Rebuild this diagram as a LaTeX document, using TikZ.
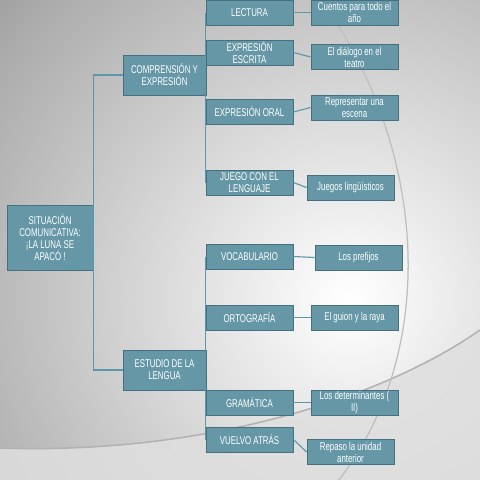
\documentclass[tikz,border=0pt]{standalone}
\usepackage{fontspec}
\setmainfont{Liberation Sans}[FakeStretch=0.70]
\definecolor{boxfill}{RGB}{101,151,166}
\definecolor{boxline}{RGB}{70,112,126}
\definecolor{linkcol}{RGB}{92,152,170}
\pgfdeclareradialshading{bgglow}{\pgfpointorigin}{color(0bp)=(white); color(1.7bp)=(gray!5); color(20.2bp)=(gray!65); color(22.6bp)=(gray!75); color(50bp)=(gray!75)}

\begin{document}
\begin{tikzpicture}[x=0.025cm,y=-0.025cm,
  box/.style={rectangle,draw=boxline,fill=boxfill,line width=0.6pt,text=white,inner sep=0pt,align=center,
    font=\fontsize{8}{8.5}\selectfont,minimum width=2.175cm,minimum height=0.625cm},
  link/.style={draw=linkcol,line width=0.8pt}]
\useasboundingbox (0,0) rectangle (480,480);
\begin{scope}
\clip (0,0) rectangle (480,480);
\fill[gray!75] (0,0) rectangle (480,480);
\shade[shading=bgglow] (350,300) circle (520);
\fill[gray!25,opacity=0.85] (0,448) .. controls (200,455) and (380,400) .. (480,330) -- (480,480) -- (0,480) -- cycle;
\draw[gray!60,line width=1.1pt] (0,448) .. controls (200,455) and (380,400) .. (480,330);
\draw[gray!50,line width=0.9pt] (335,20) .. controls (430,170) and (435,360) .. (335,485);
\end{scope}

\node[box,minimum width=2.15cm,minimum height=1.625cm] (root) at (50,237.5) {SITUACIÓN\\COMUNICATIVA:\\¡LA LUNA SE\\APACÓ !};
\node[box,minimum width=2.075cm,minimum height=1cm] (comp) at (164.5,75) {COMPRENSIÓN Y\\EXPRESIÓN};
\node[box,minimum width=2.075cm,minimum height=1cm] (estudio) at (164.5,370) {ESTUDIO DE LA\\LENGUA};

\node[box] (lect) at (249.5,12.5) {LECTURA};
\node[box] (escr) at (249.5,52.5) {EXPRESIÓN\\ESCRITA};
\node[box] (oral) at (249.5,112) {EXPRESIÓN ORAL};
\node[box] (juego) at (249.5,182.5) {JUEGO CON EL\\LENGUAJE};
\node[box] (vocab) at (249.5,256.5) {VOCABULARIO};
\node[box] (orto) at (249.5,317.5) {ORTOGRAFÍA};
\node[box] (gram) at (249.5,402.5) {GRAMÁTICA};
\node[box] (vuelvo) at (249.5,439.5) {VUELVO ATRÁS};

\node[box] (cuentos) at (354.5,12.5) {Cuentos para todo el\\año};
\node[box] (dialogo) at (354.5,57) {El diálogo en el\\teatro};
\node[box] (escena) at (354.5,107.5) {Representar una\\escena};
\node[box] (juegos) at (350.5,187.5) {Juegos lingüísticos};
\node[box] (prefijos) at (358.5,257.5) {Los prefijos};
\node[box] (guion) at (354.5,317.5) {El guion y la raya};
\node[box] (determ) at (354.5,402.5) {Los determinantes (\\II)};
\node[box] (repaso) at (350.5,452) {Repaso la unidad\\anterior};

\draw[link] (comp.west) -| (root.east) |- (estudio.west);
\draw[link] (lect.west) -- (juego.west);
\draw[link] (vocab.west) -- (vuelvo.west);

\draw[link] (lect.east) -- (cuentos.west);
\draw[link] (escr.east) -- (dialogo.west);
\draw[link] (oral.east) -- (escena.west);
\draw[link] (juego.east) -- (juegos.west);
\draw[link] (vocab.east) -- (prefijos.west);
\draw[link] (orto.east) -- (guion.west);
\draw[link] (gram.east) -- (determ.west);
\draw[link] (vuelvo.east) -- (repaso.west);

\end{tikzpicture}
\end{document}
